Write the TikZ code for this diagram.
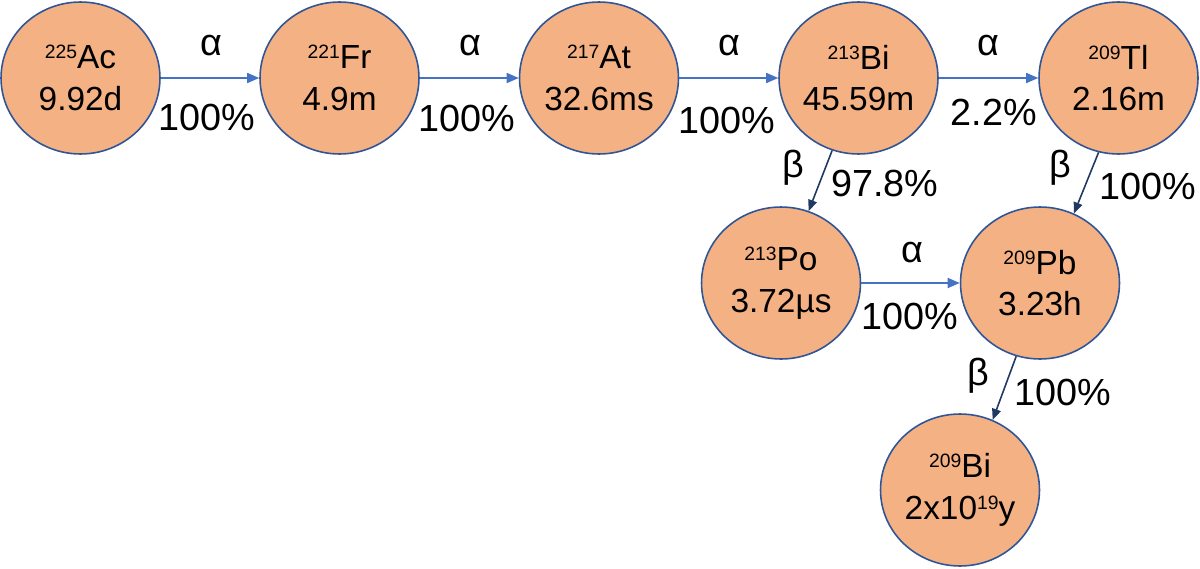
\documentclass[tikz,border=0pt]{standalone}
\usepackage{fontspec}
\setmainfont{Liberation Sans}
\usetikzlibrary{arrows.meta,shapes.geometric}
\definecolor{nucfill}{HTML}{F4B183}
\definecolor{nucdraw}{HTML}{2F5597}
\definecolor{alphacol}{HTML}{4472C4}
\definecolor{betacol}{HTML}{203864}
\newcommand{\iso}[2]{\raisebox{5.7pt}{\fontsize{11}{11}\selectfont #1}#2}
\begin{document}
\begin{tikzpicture}[x=0.02cm,y=-0.02cm,
 nuc/.style={ellipse, draw=nucdraw, fill=nucfill, line width=0.9pt, minimum width=3.18cm, minimum height=3.04cm, inner sep=0pt, align=center, font=\fontsize{19}{23.8}\selectfont},
 adecay/.style={draw=alphacol, line width=0.9pt, -{Triangle[length=0.24cm,width=0.2cm]}},
 bdecay/.style={draw=betacol, line width=0.9pt, -{Triangle[length=0.22cm,width=0.18cm]}},
 lbl/.style={font=\fontsize{21.5}{24}\selectfont, inner sep=0pt}]
\useasboundingbox (0,0) rectangle (1200,568);
% nuclides
\node[nuc] (ac)    at (80.5,78) {\iso{225}{Ac}\\9.92d};
\node[nuc] (fr)    at (339.5,78) {\iso{221}{Fr}\\4.9m};
\node[nuc] (at)    at (599,78) {\iso{217}{At}\\32.6ms};
\node[nuc] (bia)   at (858.5,78) {\iso{213}{Bi}\\45.59m};
\node[nuc] (tl)    at (1118.5,78) {\iso{209}{Tl}\\2.16m};
\node[nuc] (po)    at (781,283) {\iso{213}{Po}\\3.72µs};
\node[nuc] (pb)    at (1040,283) {\iso{209}{Pb}\\3.23h};
\node[nuc] (bib)   at (960,490) {\iso{209}{Bi}\\2x10\raisebox{5.7pt}{\fontsize{11}{11}\selectfont 19}y};
% alpha decays
\draw[adecay] (ac.east) -- (fr.west);
\draw[adecay] (fr.east) -- (at.west);
\draw[adecay] (at.east) -- (bia.west);
\draw[adecay] (bia.east) -- (tl.west);
\draw[adecay] (po.east) -- (pb.west);
% beta decays
\draw[bdecay] (bia.-110) -- (po.69);
\draw[bdecay] (tl.-105) -- (pb.64);
\draw[bdecay] (pb.-108) -- (bib.65);
% labels
\node[lbl] (a1) at (211,46) {α};
\node[lbl] (a2) at (470,46) {α};
\node[lbl] (a3) at (729,46) {α};
\node[lbl] (a4) at (988,46) {α};
\node[lbl] (a5) at (912,253) {α};
\node[lbl] (p1) at (207,117) {100\%};
\node[lbl] (p2) at (467,118) {100\%};
\node[lbl] (p3) at (727,120) {100\%};
\node[lbl] (p4) at (994,112) {2.2\%};
\node[lbl] (p5) at (910,316) {100\%};
\node[lbl] (b1) at (793,168) {β};
\node[lbl] (q1) at (885,183) {97.8\%};
\node[lbl] (b2) at (1060,168) {β};
\node[lbl] (q2) at (1148,186) {100\%};
\node[lbl] (b3) at (978,376) {β};
\node[lbl] (q3) at (1063,392) {100\%};
\end{tikzpicture}
\end{document}
